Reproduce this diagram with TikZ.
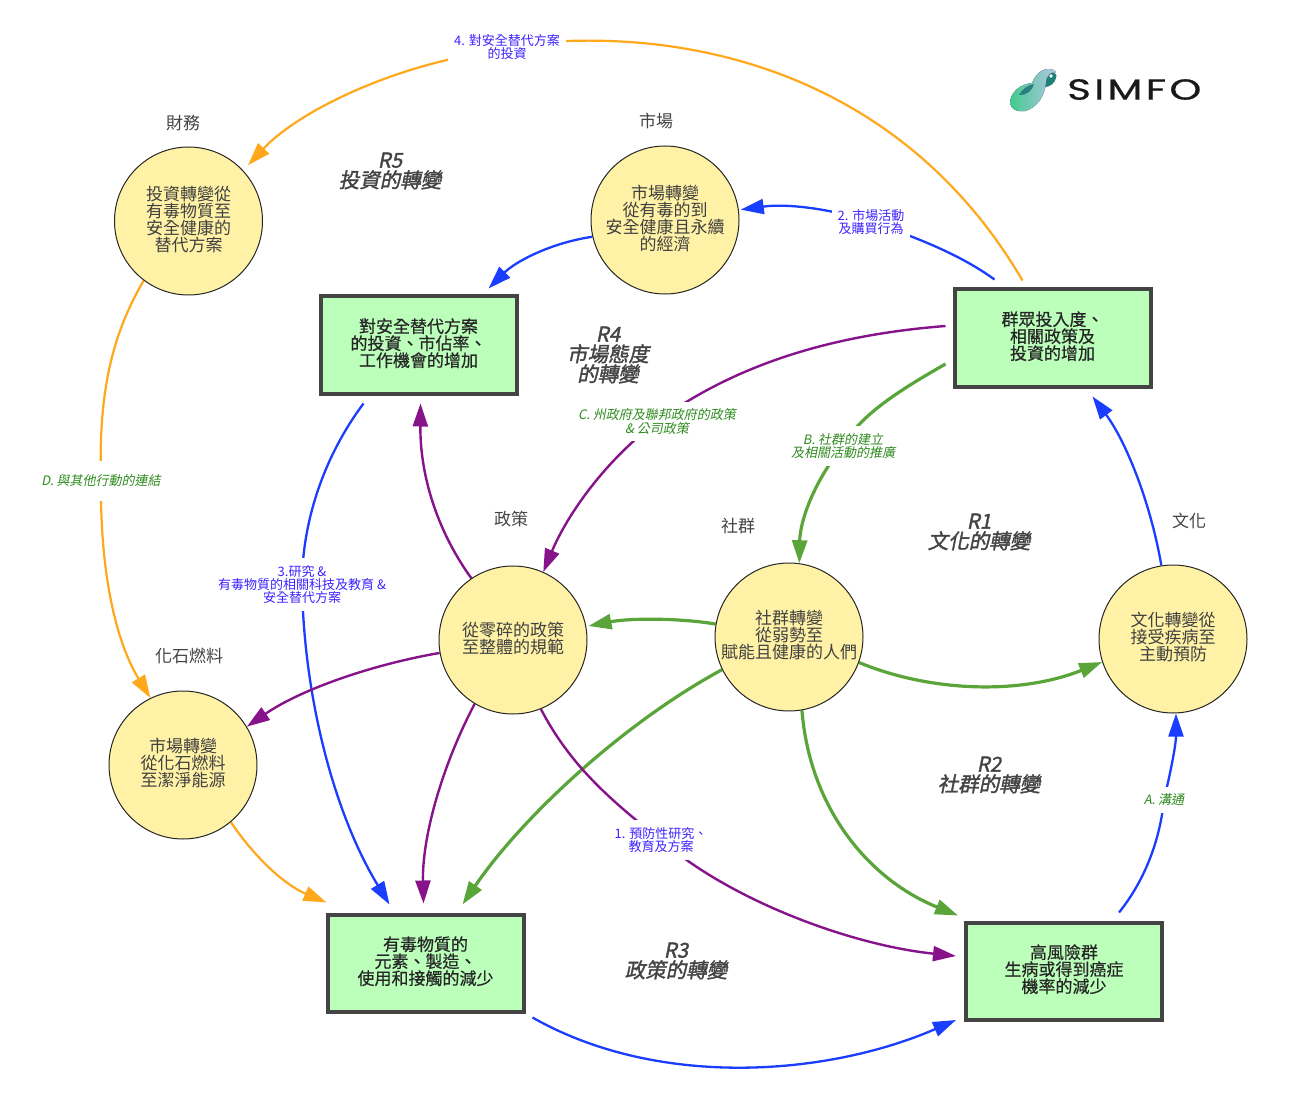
\documentclass[tikz,border=0pt]{standalone}
\usepackage{fontspec}
\setmainfont{Noto Sans CJK TC}
\newfontfamily\itf[FakeSlant=0.2]{Noto Sans CJK TC}
\newfontfamily\medf[FakeBold=0.5]{Noto Sans CJK TC}
\newfontfamily\rf[FakeSlant=0.2,FakeBold=1.6]{Noto Sans CJK TC}
\newfontfamily\logof[LetterSpace=8,FakeBold=0.5]{Poppins}
\usetikzlibrary{arrows.meta,backgrounds}
\definecolor{cblue}{HTML}{1A3DFF}
\definecolor{corange}{HTML}{FFA81C}
\definecolor{cgreen}{HTML}{5AA53A}
\definecolor{cpurple}{HTML}{86138A}
\definecolor{cfill}{HTML}{FFF2A6}
\definecolor{bfill}{HTML}{BBFFBB}
\definecolor{bline}{HTML}{444444}
\definecolor{lblue}{HTML}{3F22FF}
\definecolor{lgreen}{HTML}{2E8B1E}
\definecolor{ltext}{HTML}{444444}
\definecolor{logoa}{HTML}{42CB8C}
\definecolor{logob}{HTML}{B4C6E6}
\definecolor{logoc}{HTML}{1F8278}
\definecolor{logod}{HTML}{2B7F80}
\tikzset{
  raised/.style={execute at end node={\rule[-5pt]{0pt}{5pt}}},
  stock/.style={circle,draw=black!85,line width=1pt,fill=cfill,minimum size=148pt,inner sep=0pt,align=center,text=black!75,font=\fontsize{17}{17}\selectfont,raised},
  goal/.style={rectangle,draw=bline,line width=4pt,fill=bfill,minimum width=196pt,minimum height=97pt,inner sep=0pt,align=center,text=black!85,font=\medf\fontsize{17}{17}\selectfont,raised},
  cat/.style={text=ltext,inner sep=0pt,font=\fontsize{17}{17}\selectfont},
  loopname/.style={text=ltext,inner sep=0pt,align=center,font=\rf\fontsize{20.5}{20}\selectfont},
  blab/.style={fill=white,text=lblue,align=center,inner xsep=6pt,inner ysep=7pt,font=\fontsize{13}{12}\selectfont},
  glab/.style={fill=white,text=lgreen,align=center,inner xsep=6pt,inner ysep=7pt,font=\itf\fontsize{13}{12}\selectfont},
  link/.style={-{Triangle[length=23pt,width=15pt]}},
  lkblue/.style={link,draw=cblue,line width=2.3pt,color=cblue},
  lkorange/.style={link,draw=corange,line width=2.2pt,color=corange},
  lkgreen/.style={link,draw=cgreen,line width=3.2pt,color=cgreen},
  lkpurple/.style={link,draw=cpurple,line width=2.4pt,color=cpurple},
}
\begin{document}
\begin{tikzpicture}[x=1pt,y=-1pt]
\begin{pgfonlayer}{background}
\path[use as bounding box,fill=white] (0,0) rectangle (1310,1094);
\end{pgfonlayer}
% stocks
\node[stock] (fin) at (188.5,221) {投資轉變從\\有毒物質至\\安全健康的\\替代方案};
\node[stock] (mkt) at (665,220) {市場轉變\\從有毒的到\\安全健康且永續\\的經濟};
\node[stock] (pol) at (513,640) {從零碎的政策\\至整體的規範};
\node[stock] (com) at (789,637) {社群轉變\\從弱勢至\\賦能且健康的人們};
\node[stock] (cul) at (1173,639) {文化轉變從\\接受疾病至\\主動預防};
\node[stock] (fos) at (183,765) {市場轉變\\從化石燃料\\至潔淨能源};
% goals
\node[goal] (inv) at (418.5,345) {對安全替代方案\\的投資、市佔率、\\工作機會的增加};
\node[goal] (eng) at (1052.5,338) {群眾投入度、\\相關政策及\\投資的增加};
\node[goal] (tox) at (425.5,963) {有毒物質的\\元素、製造、\\使用和接觸的減少};
\node[goal] (risk) at (1064,971) {高風險群\\生病或得到癌症\\機率的減少};
% category labels
\node[cat] (c1) at (183,123) {財務};
\node[cat] (c2) at (656,121) {市場};
\node[cat] (c3) at (511,519) {政策};
\node[cat] (c4) at (738,526) {社群};
\node[cat] (c5) at (1189,521) {文化};
\node[cat] (c6) at (189,656) {化石燃料};
% loop names
\node[loopname] (r5) at (390,171) {R5\\投資的轉變};
\node[loopname] (r4) at (608,355) {R4\\市場態度\\的轉變};
\node[loopname] (r1) at (979,532) {R1\\文化的轉變};
\node[loopname] (r2) at (989,775) {R2\\社群的轉變};
\node[loopname] (r3) at (676,961) {R3\\政策的轉變};
% link labels
\node[blab] (l4) at (507,47) {4. 對安全替代方案\\的投資};
\node[blab] (l2) at (871,222) {2. 市場活動\\及購買行為};
\node[blab] (l3) at (302,584.5) {3.研究 \&\\有毒物質的相關科技及教育 \&\\安全替代方案};
\node[blab] (l1) at (661,840) {1. 預防性研究、\\教育及方案};
\node[glab] (lc) at (657,421.5) {C. 州政府及聯邦政府的政策\\\& 公司政策};
\node[glab] (lb) at (843,446) {B. 社群的建立\\及相關活動的推廣};
\node[glab,minimum height=40pt] (ld) at (101,481) {D. 與其他行動的連結};
\node[glab] (la) at (1164,799.5) {A. 溝通};
% logo
\node[inner sep=0pt,anchor=west,text=black!90,font=\logof\fontsize{29}{29}\selectfont] (logo) at (1067,89.5) {\scalebox{1.4}[1]{SIMFO}};
\fill[logoc] (1047,74) .. controls (1052,72) and (1058,72) .. (1056,78) .. controls (1055,83) and (1050,87) .. (1045,87) -- cycle;
\fill[left color=logoa,right color=logob] (1010,103)
  .. controls (1010,93) and (1020,84) .. (1032,83)
  .. controls (1035,76) and (1040,69) .. (1049,69)
  .. controls (1053,69) and (1056,71) .. (1056,73)
  .. controls (1052,71) and (1047,74) .. (1046,82)
  .. controls (1045,97) and (1036,108) .. (1025,111)
  .. controls (1016,112) and (1011,109) .. (1010,103) -- cycle;
\fill[logod] (1019,95) .. controls (1022,89) and (1028,85) .. (1034,84) .. controls (1033,90) and (1026,96) .. (1019,95) -- cycle;
\fill[white] (1051,76) circle (1.8pt);
% connectors
\begin{pgfonlayer}{background}
\draw[lkorange] ([xshift=-30pt,yshift=7pt]eng.north) .. controls (920,105) and (745,35) .. (568,41) .. controls (530,42) and (490,50) .. (447,60) .. controls (370,78) and (295,115) .. ([shift={(5,-5)}]fin.43);
\draw[lkblue] ([xshift=-58pt,yshift=8pt]eng.north) .. controls (965,258) and (925,240) .. (l2.center) .. controls (835,210) and (790,203) .. ([xshift=2pt]mkt.8);
\draw[lkblue] (mkt.193) .. controls (550,243) and (515,262) .. ([xshift=70pt,yshift=6pt]inv.north);
\draw[lkorange] (fin.233) .. controls (115,330) and (98,385) .. (ld.center) .. controls (100,570) and (115,640) .. (fos.116);
\draw[lkorange] (fos.-50) .. controls (255,858) and (285,885) .. ([xshift=-99pt,yshift=10pt]tox.north);
\draw[lkblue] ([xshift=-55pt,yshift=-8pt]inv.south) .. controls (325,455) and (302,520) .. (l3.center) .. controls (304,700) and (335,815) .. ([xshift=-36pt,yshift=8pt]tox.north);
\draw[lkpurple] (pol.124) .. controls (440,535) and (420,480) .. ([xshift=2pt,yshift=-8pt]inv.south);
\draw[lkpurple] ([xshift=-7pt,yshift=12pt]eng.west) .. controls (830,335) and (735,365) .. (lc.center) .. controls (600,465) and (565,520) .. (pol.66);
\draw[lkgreen] ([xshift=-7pt,yshift=-26pt]eng.west) .. controls (900,390) and (860,415) .. (lb.center) .. controls (815,480) and (800,520) .. (com.82);
\draw[lkgreen] (com.170) .. controls (680,618) and (630,618) .. ([xshift=1pt,yshift=14pt]pol.east);
\draw[lkgreen] (com.-20) .. controls (930,692) and (1020,695) .. (cul.198);
\draw[lkgreen] (com.-154) .. controls (620,725) and (520,820) .. ([xshift=37pt,yshift=8pt]tox.north);
\draw[lkgreen] (com.-80) .. controls (810,810) and (870,880) .. ([xshift=-6pt,yshift=5pt]risk.north west);
\draw[lkpurple] (pol.190) .. controls (370,665) and (300,690) .. (fos.31);
\draw[lkpurple] (pol.-121) .. controls (440,770) and (422,840) .. ([xshift=-2pt,yshift=9pt]tox.north);
\draw[lkpurple] (pol.-68) .. controls (570,765) and (610,800) .. (l1.center) .. controls (730,900) and (850,945) .. ([xshift=-8pt,yshift=15pt]risk.west);
\draw[lkblue] ([xshift=7pt,yshift=-4pt]tox.south east) .. controls (660,1090) and (830,1075) .. ([xshift=-8pt,yshift=-49pt]risk.west);
\draw[lkblue] ([xshift=55pt,yshift=8pt]risk.north) .. controls (1145,880) and (1160,840) .. (la.center) .. controls (1170,775) and (1176,745) .. ([xshift=3pt]cul.south);
\draw[lkblue] (cul.99) .. controls (1150,500) and (1125,440) .. ([xshift=40pt,yshift=-8pt]eng.south);
\end{pgfonlayer}
\end{tikzpicture}
\end{document}
